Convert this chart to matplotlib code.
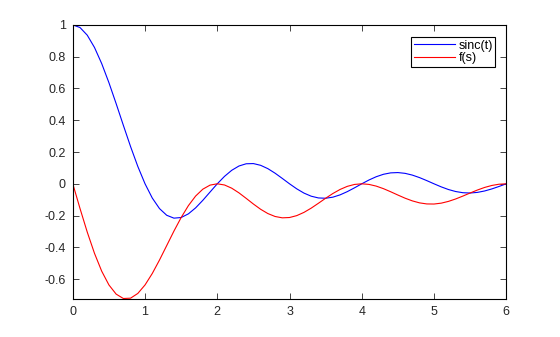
import matplotlib
matplotlib.use("Agg")
import matplotlib.pyplot as plt

# sample points, step 0.1 from 0 to 6
t = [k / 10 for k in range(61)]

sinc_t = [
    1.0, 0.9836, 0.9355, 0.8584, 0.7568, 0.6366, 0.5046, 0.3679, 0.2339, 0.1093,
    0.0, -0.0894, -0.1559, -0.1981, -0.2162, -0.2122, -0.1892, -0.1515, -0.1039, -0.0518,
    0.0, 0.0468, 0.0850, 0.1120, 0.1261, 0.1273, 0.1164, 0.0954, 0.0668, 0.0339,
    0.0, -0.0317, -0.0585, -0.0780, -0.0890, -0.0909, -0.0841, -0.0696, -0.0492, -0.0252,
    0.0, 0.0240, 0.0445, 0.0599, 0.0688, 0.0707, 0.0658, 0.0548, 0.0390, 0.0201,
    0.0, -0.0193, -0.0360, -0.0486, -0.0561, -0.0579, -0.0541, -0.0452, -0.0323, -0.0167,
    0.0,
]

f_s = [
    0.0, -0.1557, -0.3040, -0.4374, -0.5499, -0.6366, -0.6944, -0.7220, -0.7198, -0.6901,
    -0.6366, -0.5646, -0.4799, -0.3888, -0.2976, -0.2122, -0.1375, -0.0772, -0.0338, -0.0082,
    0.0, -0.0074, -0.0276, -0.0570, -0.0916, -0.1273, -0.1603, -0.1872, -0.2057, -0.2142,
    -0.2122, -0.2003, -0.1799, -0.1532, -0.1225, -0.0909, -0.0611, -0.0355, -0.0160, -0.0040,
    0.0, -0.0038, -0.0145, -0.0305, -0.0500, -0.0707, -0.0906, -0.1075, -0.1200, -0.1267,
    -0.1273, -0.1218, -0.1107, -0.0954, -0.0772, -0.0579, -0.0393, -0.0230, -0.0105, -0.0026,
    0.0,
]

x_ticks = [0, 1, 2, 3, 4, 5, 6]
y_ticks = [-0.6, -0.4, -0.2, 0, 0.2, 0.4, 0.6, 0.8, 1]
y_labels = ["-0.6", "-0.4", "-0.2", "0", "0.2", "0.4", "0.6", "0.8", "1"]

plt.rcParams["font.family"] = ["Liberation Sans", "DejaVu Sans"]
plt.rcParams["font.size"] = 9

fig = plt.figure(figsize=(5.6, 3.37), dpi=100)
ax = fig.add_axes([0.13, 0.113, 0.774, 0.813])

ax.plot(t, sinc_t, color="#0000ff", lw=0.8, label="sinc(t)")
ax.plot(t, f_s, color="#ff0000", lw=0.8, label="f(s)")

ax.set_xlim(0, 6)
ax.set_ylim(-0.7246, 1)
ax.set_xticks(x_ticks)
ax.set_yticks(y_ticks)
ax.set_yticklabels(y_labels)
ax.tick_params(direction="in", top=True, right=True, length=4, width=0.6, pad=5,
               colors="#262626")
for sp in ax.spines.values():
    sp.set_linewidth(0.8)

leg = ax.legend(loc="upper right", bbox_to_anchor=(0.975, 0.955), fancybox=False,
                framealpha=1, edgecolor="black", borderpad=0.2, labelspacing=0.05,
                handlelength=3.3, handletextpad=0.3, borderaxespad=0)
leg.get_frame().set_linewidth(0.8)

fig.savefig("out.png", dpi=100)
